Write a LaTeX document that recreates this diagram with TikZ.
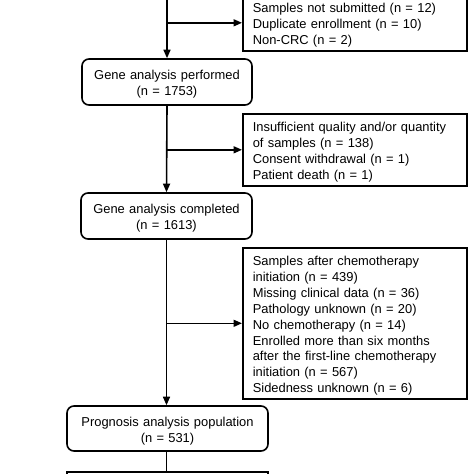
\documentclass[tikz,border=0pt]{standalone}
\usepackage{fontspec}
\setmainfont{Liberation Sans}
\usetikzlibrary{arrows.meta}
\newcommand{\topstrut}{\rule{0pt}{14.4pt}}
\begin{document}
\begin{tikzpicture}[x=1pt,y=-1pt,
  txt/.style={font=\fontsize{12.9}{15.9}\selectfont},
  exbox/.style={txt, draw, line width=1.6pt, align=left, text width=204pt,
    inner xsep=10pt, inner ysep=0pt, anchor=north west},
  rbox/.style={txt, draw, line width=1.6pt, rounded corners=7pt, align=center,
    inner sep=0pt},
  arr/.style={line width=1.6pt, -{Triangle[length=8.5pt,width=7pt]}},
  ln/.style={line width=1.6pt}]
\useasboundingbox (0,0) rectangle (474,474);
\clip (0,0) rectangle (474,474);
\node[exbox, minimum height=56pt] (ex1) at (242,-6)
  {\topstrut Samples not submitted (n = 12)\\Duplicate enrollment (n = 10)\\Non-CRC (n = 2)};
\node[rbox, text width=170pt, minimum height=46pt] (perf) at (167,82)
  {\topstrut Gene analysis performed\\(n = 1753)};
\node[exbox, minimum height=72pt] (ex2) at (242,113)
  {\topstrut Insufficient quality and/or quantity\\of samples (n = 138)\\Consent withdrawal (n = 1)\\Patient death (n = 1)};
\node[rbox, text width=171pt, minimum height=46pt] (compl) at (166.5,216)
  {\topstrut Gene analysis completed\\(n = 1613)};
\node[exbox, minimum height=151pt] (ex3) at (242,247)
  {\topstrut Samples after chemotherapy\\initiation (n = 439)\\Missing clinical data (n = 36)\\Pathology unknown (n = 20)\\No chemotherapy (n = 14)\\Enrolled more than six months\\after the first-line chemotherapy\\initiation (n = 567)\\Sidedness unknown (n = 6)};
\node[rbox, text width=201pt, minimum height=45pt] (prog) at (167.5,428.5)
  {\topstrut Prognosis analysis population\\(n = 531)};
\node[draw, line width=1.6pt, minimum width=201pt, minimum height=40pt, anchor=north, inner sep=0pt] (next) at (167.5,471) {};
\coordinate (top) at (167,-10);
\draw[arr] (top) -- (perf.north);
\draw[arr] (top |- ex1.west) -- (ex1.west);
\draw[arr] (perf.south) -- (compl.north);
\draw[arr] (perf.south |- ex2.west) -- (ex2.west);
\draw[arr] (compl.south) -- (compl.south |- prog.north);
\draw[arr] (compl.south |- ex3.west) -- (ex3.west);
\draw[ln] (prog.south -| compl.south) -- (compl.south |- next.north);
\end{tikzpicture}
\end{document}
